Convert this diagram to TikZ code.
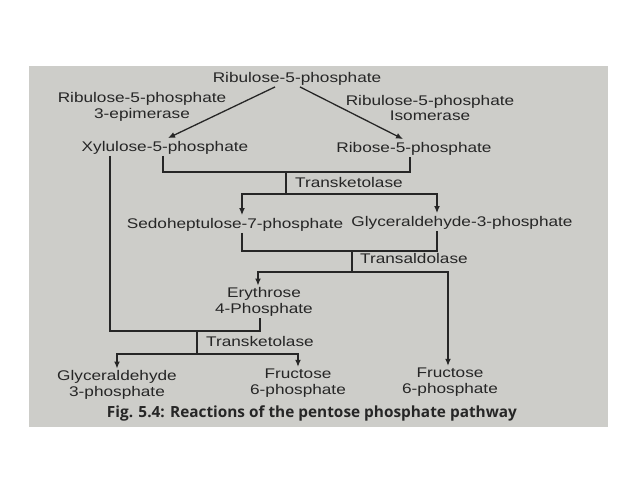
\documentclass[tikz,border=0pt]{standalone}
\usepackage{fontspec}
\usepackage{graphicx}
\setmainfont{Liberation Sans}[FakeStretch=1.23]
\newfontfamily\capfont{Open Sans}
\usetikzlibrary{arrows.meta}
\definecolor{paper}{HTML}{CDCDC9}
\definecolor{ink}{HTML}{262626}
\begin{document}
\begin{tikzpicture}[x=1pt,y=-1pt,
  font=\fontsize{14}{15.5}\selectfont,
  lbl/.style={text=ink, inner sep=2pt, align=center},
  one/.style={lbl, inner sep=3pt, text height=10pt, text depth=1.5pt},
  line/.style={draw=ink, line width=1.3pt},
  arr/.style={line, -{Latex[length=7pt,width=6pt]}}]
\useasboundingbox (0,0) rectangle (638,493);
\fill[white] (0,0) rectangle (638,493);
\fill[paper] (29,66) rectangle (608,427);
% nodes
\node[one] (r5p) at (297,78) {Ribulose-5-phosphate};
\node[lbl] (epi) at (142,107) {Ribulose-5-phosphate\\3-epimerase};
\node[lbl] (iso) at (430,108) {Ribulose-5-phosphate\\Isomerase};
\node[one] (xu5p) at (165,147) {Xylulose-5-phosphate};
\node[one] (ri5p) at (414,148) {Ribose-5-phosphate};
\node[one, anchor=west] (tk1) at (292,183) {Transketolase};
\node[one] (s7p) at (235,224) {Sedoheptulose-7-phosphate};
\node[one] (g3p) at (462,222) {Glyceraldehyde-3-phosphate};
\node[one, anchor=west] (ta) at (357,259) {Transaldolase};
\node[lbl] (e4p) at (264,302) {Erythrose\\4-Phosphate};
\node[one, anchor=west] (tk2) at (203,342) {Transketolase};
\node[lbl] (gap) at (117,385) {Glyceraldehyde\\3-phosphate};
\node[lbl] (f6p1) at (298,383) {Fructose\\6-phosphate};
\node[lbl] (f6p2) at (450,382) {Fructose\\6-phosphate};
\node[lbl] (cap) at (312,413) {\resizebox{410pt}{!}{\capfont\bfseries Fig. 5.4: Reactions of the pentose phosphate pathway}};
% junctions
\coordinate (tkA) at (286,172);
\coordinate (tkB) at (286,194);
\coordinate (tsA) at (352,251);
\coordinate (tsB) at (352,272);
\coordinate (tkC) at (197,331);
\coordinate (tkD) at (197,354);
% connectors
\draw[arr] ([xshift=-22pt]r5p.south) -- ([xshift=3pt]xu5p.north);
\draw[arr] ([xshift=3pt]r5p.south) -- ([xshift=-11pt]ri5p.north);
\draw[line] ([xshift=-2pt]xu5p.south) |- (tkA) -| ([xshift=-4pt]ri5p.south);
\draw[line] (tkA) -- (tkB);
\draw[arr] (tkB) -| ([xshift=7pt]s7p.north);
\draw[arr] (tkB) -| ([xshift=-25pt]g3p.north);
\draw[line] ([xshift=7pt]s7p.south) |- (tsA) -| ([xshift=-25pt]g3p.south);
\draw[line] (tsA) -- (tsB);
\draw[arr] (tsB) -| ([xshift=-6pt]e4p.north);
\draw[arr] (tsB) -| ([xshift=-2pt]f6p2.north);
\draw[line] ([xshift=-55pt]xu5p.south) |- (tkC);
\draw[line] ([xshift=-4pt]e4p.south) |- (tkC);
\draw[line] (tkC) -- (tkD);
\draw[arr] (tkD) -| (gap.north);
\draw[arr] (tkD) -| (f6p1.north);
\end{tikzpicture}
\end{document}
